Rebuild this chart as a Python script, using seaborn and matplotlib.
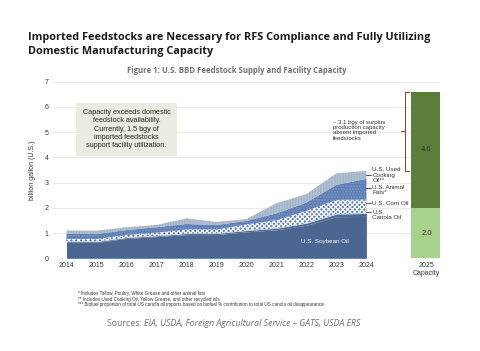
import numpy as np
import matplotlib
matplotlib.use('Agg')
import matplotlib.pyplot as plt
import seaborn as sns

# Feedstock supply, billion gallons
years = [2014, 2015, 2016, 2017, 2018, 2019, 2020, 2021, 2022, 2023, 2024]
soybean = [0.63, 0.63, 0.79, 0.86, 0.94, 0.94, 1.05, 1.13, 1.31, 1.65, 1.66]
canola = [0.03, 0.03, 0.03, 0.03, 0.04, 0.04, 0.05, 0.06, 0.08, 0.10, 0.12]
corn = [0.11, 0.11, 0.11, 0.13, 0.17, 0.17, 0.25, 0.33, 0.50, 0.57, 0.56]
animal_fats = [0.20, 0.19, 0.19, 0.21, 0.21, 0.17, 0.13, 0.26, 0.32, 0.59, 0.81]
uco = [0.13, 0.13, 0.11, 0.09, 0.22, 0.12, 0.07, 0.40, 0.33, 0.46, 0.31]

# 2025 facility capacity
cap_x = 2026
cap_domestic = 2.0
cap_surplus = 4.6

xtick_pos = years + [cap_x]
xtick_labels = [str(y) for y in years] + ['2025\nCapacity']

sns.set_style('white')
plt.rcParams['font.family'] = ['Liberation Sans', 'DejaVu Sans']
plt.rcParams['hatch.linewidth'] = 1.0

fig = plt.figure(figsize=(4.8, 3.51), dpi=100)
ax = fig.add_axes([0.1104, 0.2641, 0.806, 0.5031])

colors = ['#4b6791', '#4e6b96', '#5675a8', '#5a7bb3', '#b0c1d4']
layers = ax.stackplot(years, soybean, canola, corn, animal_fats, uco,
                      colors=colors, linewidth=0)
hatches = [None, None, 'xxxxxxx', '......', '||||||']
hatch_cols = [None, None, '#f2f5fa', '#7e98c4', '#a2b4ca']
for poly, h, hc in zip(layers, hatches, hatch_cols):
    if h:
        poly.set_hatch(h)
        poly.set_edgecolor(hc)
        poly.set_linewidth(0)

ax.bar(cap_x, cap_domestic, width=1.0, color='#a9d18e', linewidth=0)
ax.bar(cap_x, cap_surplus, width=1.0, bottom=cap_domestic, color='#5b7f3b', linewidth=0)
ax.text(cap_x, cap_domestic / 2, '2.0', ha='center', va='center', fontsize=5.5, color='#333333')
ax.text(cap_x, cap_domestic + cap_surplus / 2, '4.6', ha='center', va='center', fontsize=5.5, color='#333333')

ax.set_xlim(2013.55, 2026.45)
ax.set_ylim(0, 7)
ax.set_yticks(range(8))
ax.set_xticks(xtick_pos)
ax.set_xticklabels(xtick_labels)
ax.tick_params(axis='both', labelsize=5, length=0, pad=3, colors='#333333')
ax.grid(axis='y', color='#e6e6e6', linewidth=0.6)
ax.set_axisbelow(True)
sns.despine(ax=ax, left=True, bottom=True)
ax.set_ylabel('billion gallon (U.S.)', fontsize=5, color='#333333', labelpad=6)

# layer labels with leader ticks
label_specs = [
    ('U.S. Used\nCooking\nOil**', 3.30, 3.30),
    ('U.S. Animal\nFats*', 2.78, 2.70),
    ('U.S. Corn Oil', 2.18, 2.18),
    ('U.S.\nCanola Oil', 1.83, 1.72),
]
for txt, yl, yt in label_specs:
    ax.plot([2024.0, 2024.17], [yl, yl], color='#333333', lw=0.6, clip_on=False)
    ax.text(2024.2, yt, txt, fontsize=4.5, color='#333333', va='center', ha='left',
            linespacing=1.05)

ax.text(2022.6, 0.65, 'U.S. Soybean Oil', fontsize=4.5, color='white', ha='center', va='center')

# callout box
ax.text(2016.0, 5.12,
        'Capacity exceeds domestic\nfeedstock availability.\nCurrently, 1.5 bgy of\n'
        'imported feedstocks\nsupport facility utilization.',
        ha='center', va='center', fontsize=5.2, color='#222222', linespacing=1.25,
        bbox=dict(boxstyle='square,pad=0.9', facecolor='#e9ede0', edgecolor='none'))

# brace for surplus capacity
bc = '#8a3b2b'
top_v, bot_v = cap_domestic + cap_surplus, 3.46
ax.plot([2025.3, 2025.3], [bot_v, top_v], color=bc, lw=0.7)
ax.plot([2025.3, 2025.42], [top_v, top_v], color=bc, lw=0.7)
ax.plot([2025.3, 2025.42], [bot_v, bot_v], color=bc, lw=0.7)
mid = (top_v + bot_v) / 2
ax.plot([2025.15, 2025.3], [mid, mid], color=bc, lw=0.7)
ax.text(2022.9, mid + 0.05, '~ 3.1 bgy of surplus\nproduction capacity\nabsent imported\nfeedstocks',
        fontsize=4.3, color='#333333', va='center', ha='left', linespacing=1.1)

# titles
title_font = ['Open Sans', 'DejaVu Sans']
fig.text(0.058, 0.892, 'Imported Feedstocks are Necessary for RFS Compliance and Fully Utilizing',
         fontsize=7.85, fontweight='bold', family=title_font, color='#1a1a1a',
         va='center', ha='left')
fig.text(0.058, 0.852, 'Domestic Manufacturing Capacity',
         fontsize=7.85, fontweight='bold', family=title_font, color='#1a1a1a',
         va='center', ha='left')
fig.text(0.494, 0.800, 'Figure 1: U.S. BBD Feedstock Supply and Facility Capacity',
         fontsize=5.6, fontweight='bold', family=title_font, color='#6f6f6f',
         va='center', ha='center')

# footnotes
notes = ['* Includes Tallow, Poultry, White Grease and other animal fats',
         '** Includes Used Cooking Oil, Yellow Grease, and other recycled oils',
         '*** Biofuel proportion of total US canola oil imports based on biofuel % contribution to total US canola oil disappearance']
for i, n in enumerate(notes):
    fig.text(0.163, 1 - (294 + 5.2 * i) / 351, n, fontsize=3.3, color='#333333', va='center', ha='left')

src = fig.text(0.223, 1 - 323 / 351, 'Sources: ', fontsize=6.3, color='#6f6f6f',
               family=title_font, va='center', ha='left')
ax.annotate('EIA, USDA, Foreign Agricultural Service \u2013 GATS, USDA ERS',
            xy=(1, 0.5), xycoords=src, va='center', ha='left',
            fontsize=6.3, color='#6f6f6f', style='italic', family=title_font,
            annotation_clip=False)

fig.savefig('out.png', dpi=100, facecolor='white')
